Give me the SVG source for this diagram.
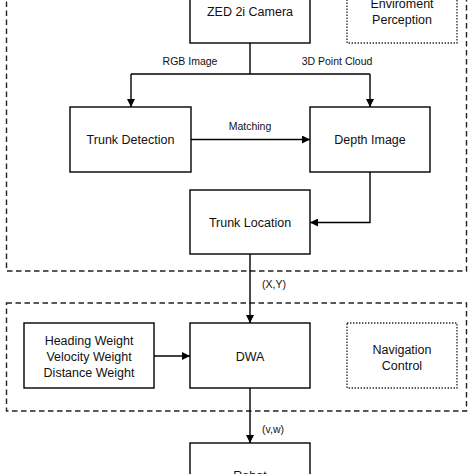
<svg xmlns="http://www.w3.org/2000/svg" width="474" height="474" viewBox="0 0 474 474">
<defs>
<style>
.box{fill:#fff;stroke:#000;stroke-width:1.4}
.grp{fill:none;stroke:#222;stroke-width:1.4;stroke-dasharray:5.5 3.5}
.dot{fill:none;stroke:#222;stroke-width:1.3;stroke-dasharray:1.4 1.6}
.t{font-family:"Liberation Sans",Arial,sans-serif;font-size:12.5px;fill:#111;text-anchor:middle}
.s{font-family:"Liberation Sans",Arial,sans-serif;font-size:10.5px;fill:#111;text-anchor:middle}
.c{fill:none;stroke:#000;stroke-width:1.4}
</style>
<marker id="ah" viewBox="0 0 10 10" refX="10" refY="5" markerWidth="8" markerHeight="8" markerUnits="userSpaceOnUse" orient="auto">
<path d="M0,0 L10,5 L0,10 z" fill="#000"/>
</marker>
</defs>
<rect width="474" height="474" fill="#fff"/>
<g id="groups">
<rect class="grp" x="6.5" y="-30" width="460" height="301"/>
<rect class="grp" x="6.5" y="303" width="460" height="108"/>
</g>
<g id="connectors">
<path class="c" d="M250,43 V74"/>
<path class="c" d="M131,74 H370"/>
<path class="c" d="M131,74 V107" marker-end="url(#ah)"/>
<path class="c" d="M370,74 V107" marker-end="url(#ah)"/>
<path class="c" d="M191,139.5 H310" marker-end="url(#ah)"/>
<path class="c" d="M370,172 V222.5 H310" marker-end="url(#ah)"/>
<path class="c" d="M250,254 V323" marker-end="url(#ah)"/>
<path class="c" d="M154,356 H190" marker-end="url(#ah)"/>
<path class="c" d="M250,388 V443" marker-end="url(#ah)"/>
<text class="s" x="190" y="65">RGB Image</text>
<text class="s" x="337" y="65">3D Point Cloud</text>
<text class="s" x="250" y="130">Matching</text>
<text class="s" x="274" y="288">(X,Y)</text>
<text class="s" x="273" y="433">(v,w)</text>
</g>
<g id="camera">
<rect class="box" x="190" y="-22" width="120" height="65"/>
<text class="t" x="250" y="15.5">ZED 2i Camera</text>
</g>
<g id="env">
<rect class="dot" x="347" y="-22" width="110" height="65"/>
<text class="t" x="402" y="7.5">Enviroment</text>
<text class="t" x="402" y="23.5">Perception</text>
</g>
<g id="trunkdet">
<rect class="box" x="70" y="107" width="121" height="65"/>
<text class="t" x="130.5" y="144">Trunk Detection</text>
</g>
<g id="depth">
<rect class="box" x="310" y="107" width="120" height="65"/>
<text class="t" x="370" y="144">Depth Image</text>
</g>
<g id="trunkloc">
<rect class="box" x="190" y="190" width="120" height="64"/>
<text class="t" x="250" y="227">Trunk Location</text>
</g>
<g id="weights">
<rect class="box" x="24" y="323" width="130" height="65"/>
<text class="t" x="89" y="344.5">Heading Weight</text>
<text class="t" x="89" y="360.5">Velocity Weight</text>
<text class="t" x="89" y="376.5">Distance Weight</text>
</g>
<g id="dwa">
<rect class="box" x="190" y="323" width="120" height="65"/>
<text class="t" x="250" y="360.5">DWA</text>
</g>
<g id="nav">
<rect class="dot" x="347" y="323" width="110" height="65"/>
<text class="t" x="402" y="353.5">Navigation</text>
<text class="t" x="402" y="369.5">Control</text>
</g>
<g id="robot">
<rect class="box" x="190" y="443" width="120" height="65"/>
<text class="t" x="250" y="480">Robot</text>
</g>
</svg>
